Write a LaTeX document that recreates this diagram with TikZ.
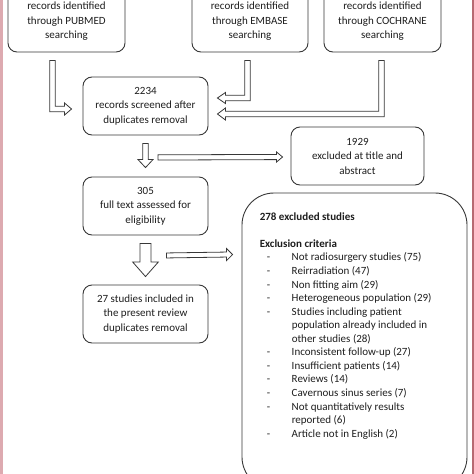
\documentclass[tikz,border=0pt]{standalone}
\usepackage{fontspec}
\setmainfont{Carlito}
\usetikzlibrary{calc}
\definecolor{ln}{HTML}{383838}
\definecolor{tx}{HTML}{1E1E1E}
\definecolor{pinkL}{HTML}{DDAAB0}
\definecolor{redR}{HTML}{B86A72}
\begin{document}
\begin{tikzpicture}[x=1pt,y=-1pt,
  box/.style={draw=ln, line width=0.9pt, rounded corners=9pt, align=center, text=tx,
    font=\fontsize{11}{14.5}\selectfont, inner sep=0pt},
  harrow/.style={draw=ln, line width=0.8pt, fill=white, line join=miter}]
\useasboundingbox (0,0) rectangle (474,474);
\clip (0,0) rectangle (474,474);
\fill[white] (0,0) rectangle (474,474);
\fill[pinkL] (0,0) rectangle (2.7,474);
\fill[redR] (471.5,0) rectangle (474,474);

% boxes
\node[box, minimum width=117pt, minimum height=75pt] (pub) at (66.5,14.5) {\phantom{0}\\records identified\\through PUBMED\\searching};
\node[box, minimum width=116pt, minimum height=75pt] (emb) at (250,14.5) {\phantom{0}\\records identified\\through EMBASE\\searching};
\node[box, minimum width=117pt, minimum height=75pt] (coc) at (382.5,14.5) {\phantom{0}\\records identified\\through COCHRANE\\searching};
\node[box, minimum width=125pt, minimum height=58pt] (scr) at (145.5,106) {2234\\records screened after\\duplicates removal};
\node[box, minimum width=133pt, minimum height=58pt] (exc) at (357.5,156) {1929\\excluded at title and\\abstract};
\node[box, minimum width=125pt, minimum height=58pt] (ft) at (145.5,206) {305\\full text assessed for\\eligibility};
\node[box, minimum width=125pt, minimum height=58pt] (inc) at (145.5,314) {27 studies included in\\the present review\\duplicates removal};
\node[box, rounded corners=32pt, minimum width=225pt, minimum height=296pt] (big) at (354.5,341) {};
\node[anchor=north west, inner sep=0pt, text=tx, font=\fontsize{11}{13.56}\selectfont] (bt) at ($(big.north west)+(18,18)$)
 {\begin{tabular}{@{}p{32pt}@{}l@{}}
  \multicolumn{2}{@{}l@{}}{\textbf{278 excluded studies}}\\
  \multicolumn{2}{@{}l@{}}{}\\
  \multicolumn{2}{@{}l@{}}{\textbf{Exclusion criteria}}\\
  \hspace*{7pt}- & Not radiosurgery studies (75)\\
  \hspace*{7pt}- & Reirradiation (47)\\
  \hspace*{7pt}- & Non fitting aim (29)\\
  \hspace*{7pt}- & Heterogeneous population (29)\\
  \hspace*{7pt}- & Studies including patient\\
   & population already included in\\
   & other studies (28)\\
  \hspace*{7pt}- & Inconsistent follow-up (27)\\
  \hspace*{7pt}- & Insufficient patients (14)\\
  \hspace*{7pt}- & Reviews (14)\\
  \hspace*{7pt}- & Cavernous sinus series (7)\\
  \hspace*{7pt}- & Not quantitatively results\\
   & reported (6)\\
  \hspace*{7pt}- & Article not in English (2)
  \end{tabular}};

% arrow 1: PUBMED -> screened
\coordinate (a1s) at ($(pub.south)+(-14,8)$);
\coordinate (a1t) at ($(scr.west)+(-11,3)$);
\draw[harrow] ($(a1s)+(-2.75,0)$) |- ($(a1t)+(-7,2.75)$) -- ($(a1t)+(-7,6)$) -- (a1t)
  -- ($(a1t)+(-7,-6)$) -- ($(a1t)+(-7,-2.75)$) -| ($(a1s)+(2.75,0)$) -- cycle;
% arrow 2: EMBASE -> screened
\coordinate (a2s) at ($(emb.south)+(-2.5,8)$);
\coordinate (a2t) at ($(scr.east)+(9,-8)$);
\draw[harrow] ($(a2s)+(2.75,0)$) |- ($(a2t)+(8,2.75)$) -- ($(a2t)+(8,5.5)$) -- (a2t)
  -- ($(a2t)+(8,-5.5)$) -- ($(a2t)+(8,-2.75)$) -| ($(a2s)+(-2.75,0)$) -- cycle;
% arrow 3: COCHRANE -> screened
\coordinate (a3s) at ($(coc.south)+(-1,8)$);
\coordinate (a3t) at ($(scr.east)+(9,8)$);
\draw[harrow] ($(a3s)+(2.75,0)$) |- ($(a3t)+(8,2.75)$) -- ($(a3t)+(8,6)$) -- (a3t)
  -- ($(a3t)+(8,-6)$) -- ($(a3t)+(8,-2.75)$) -| ($(a3s)+(-2.75,0)$) -- cycle;
% arrow 4: screened -> full text
\coordinate (a4s) at ($(scr.south)+(0,8)$);
\coordinate (a4t) at ($(ft.north)+(0,-9)$);
\draw[harrow] ($(a4s)+(-2.75,0)$) -- ($(a4t)+(-2.75,-8)$) -- ($(a4t)+(-7.5,-8)$) -- (a4t)
  -- ($(a4t)+(7.5,-8)$) -- ($(a4t)+(2.75,-8)$) -- ($(a4s)+(2.75,0)$) -- cycle;
% arrow 5: -> excluded at title
\coordinate (a5s) at ($(scr.south)+(12.5,22)$);
\coordinate (a5t) at ($(exc.west)+(-8,1)$);
\draw[harrow] ($(a5s)+(0,-2.6)$) -- ($(a5t)+(-6,-2.6)$) -- ($(a5t)+(-6,-5)$) -- (a5t)
  -- ($(a5t)+(-6,5)$) -- ($(a5t)+(-6,2.6)$) -- ($(a5s)+(0,2.6)$) -- cycle;
% arrow 6: full text -> included
\coordinate (a6s) at ($(ft.south)+(0,8)$);
\coordinate (a6t) at ($(inc.north)+(0,-8)$);
\draw[harrow] ($(a6s)+(-5.5,0)$) -- ($(a6t)+(-5.5,-14.5)$) -- ($(a6t)+(-12.8,-14.5)$) -- (a6t)
  -- ($(a6t)+(12.8,-14.5)$) -- ($(a6t)+(5.5,-14.5)$) -- ($(a6s)+(5.5,0)$) -- cycle;
% arrow 7: -> excluded studies
\coordinate (a7s) at ($(ft.south)+(21,20)$);
\coordinate (a7t) at ($(big.north west)+(-9,62)$);
\draw[harrow] ($(a7s)+(0,-2.5)$) -- ($(a7t)+(-6,-2.5)$) -- ($(a7t)+(-6,-6)$) -- (a7t)
  -- ($(a7t)+(-6,6)$) -- ($(a7t)+(-6,2.5)$) -- ($(a7s)+(0,2.5)$) -- cycle;
\end{tikzpicture}
\end{document}
